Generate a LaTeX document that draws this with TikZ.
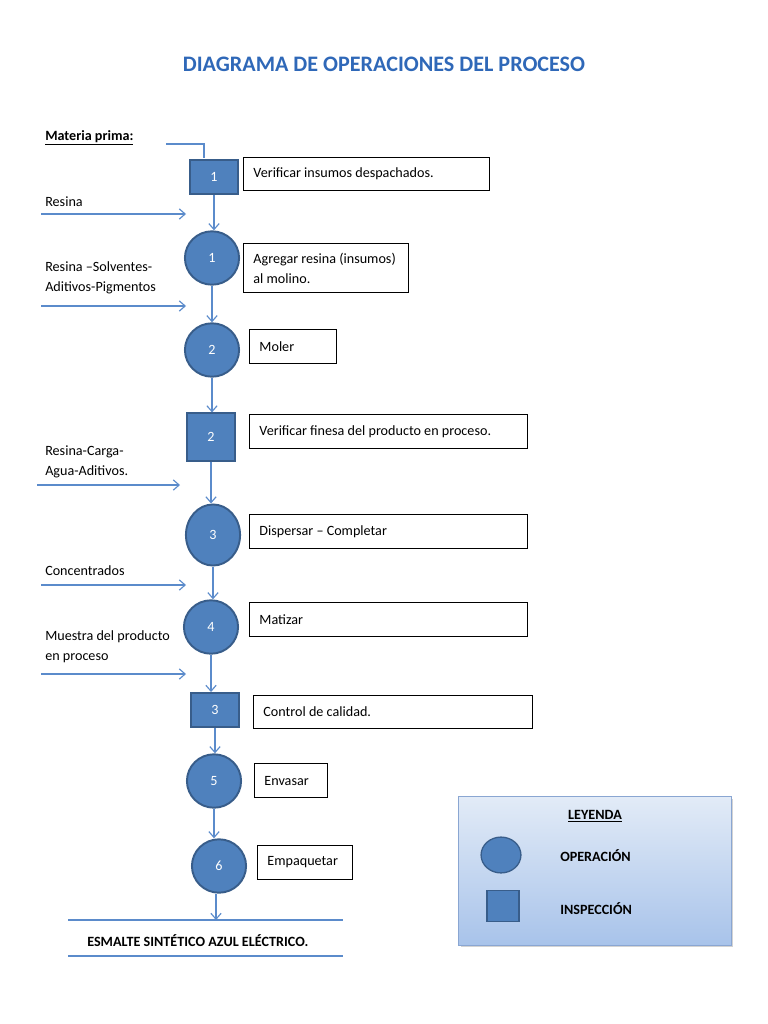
\documentclass[tikz,border=0pt]{standalone}
\usepackage{fontspec}
\setmainfont{Carlito}
\usepackage{xcolor}
\usepackage{tikz}
\usetikzlibrary{arrows.meta,positioning,shapes.geometric,shadows}

\definecolor{opblue}{HTML}{4F81BD}
\definecolor{opborder}{HTML}{385D8A}
\definecolor{flowblue}{HTML}{5B8BCB}
\definecolor{titleblue}{HTML}{2F68B8}
\definecolor{legtop}{HTML}{E2EBF7}
\definecolor{legbot}{HTML}{A8C3EA}
\definecolor{legborder}{HTML}{8AA6D2}

\begin{document}
\begin{tikzpicture}[
    x=0.2734mm, y=-0.2734mm,
    font=\fontsize{11}{15.5}\selectfont,
    operation/.style={ellipse, draw=opborder, fill=opblue, line width=1.5pt, minimum width=14.8mm, minimum height=14.6mm, text=white, inner sep=0pt},
    inspection/.style={rectangle, draw=opborder, fill=opblue, line width=1.5pt, minimum width=12.9mm, minimum height=9.3mm, text=white, inner sep=0pt},
    desc/.style={rectangle, draw=black, line width=0.9pt, anchor=north west, align=flush left, inner xsep=2.7mm, inner ysep=0pt, minimum height=9.3mm},
    feed/.style={anchor=west, align=flush left, inner sep=0pt},
    boldlabel/.style={feed, font=\bfseries\fontsize{11}{15.5}\selectfont},
    arrow/.style={-{Straight Barb[length=1.6mm,width=2.8mm]}, draw=flowblue, line width=0.9pt},
    flowline/.style={draw=flowblue, line width=0.9pt}
]
\useasboundingbox (0,0) rectangle (768,1024);

% Title
\node[font=\bfseries\fontsize{17.2}{20}\selectfont, text=titleblue] (title) at (384,64) {DIAGRAMA DE OPERACIONES DEL PROCESO};

% Process chart
\node[inspection] (insp1) at (214,177) {1};
\node[operation] (op1) at (212,258) {1};
\node[operation] (op2) at (212,350) {2};
\node[inspection, minimum width=13.1mm, minimum height=12.9mm] (insp2) at (211,437) {2};
\node[operation, minimum height=16.7mm] (op3) at (213,535) {3};
\node[operation] (op4) at (211,627) {4};
\node[inspection] (insp3) at (215,710) {3};
\node[operation] (op5) at (214,781) {5};
\node[operation] (op6) at (219,866) {6};

% Descriptions
\node[desc, text width=61.9mm, minimum height=9.0mm] (d_insumos) at (243,157) {Verificar insumos despachados.};
\node[desc, text width=39.7mm, minimum height=13.4mm] (d_agregar) at (243,243) {Agregar resina (insumos)\\al molino.};
\node[desc, text width=18.4mm] (d_moler) at (249,329) {Moler};
\node[desc, text width=70.6mm] (d_finesa) at (249,414) {Verificar finesa del producto en proceso.};
\node[desc, text width=70.6mm] (d_dispersar) at (249,514) {Dispersar -- Completar};
\node[desc, text width=70.6mm] (d_matizar) at (249,602) {Matizar};
\node[desc, text width=70.9mm, minimum height=9.0mm] (d_calidad) at (253,695) {Control de calidad.};
\node[desc, text width=14.6mm] (d_envasar) at (254,763) {Envasar};
\node[desc, text width=20.6mm] (d_empaquetar) at (257,845) {Empaquetar};

% Inputs
\node[boldlabel] (materia) at (45,138) {\underline{Materia prima:}};
\node[feed] (resina) at (45,202) {Resina};
\node[feed] (solventes) at (45,278) {Resina --Solventes-\\Aditivos-Pigmentos};
\node[feed] (carga) at (45,462) {Resina-Carga-\\Agua-Aditivos.};
\node[feed] (concentrados) at (45,571) {Concentrados};
\node[feed] (muestra) at (45,647) {Muestra del producto\\en proceso};

\coordinate (mp_start) at (166,144);
\coordinate (mp_end) at (204,158);
\coordinate (in1_a) at (41,214);  \coordinate (in1_b) at (186,214);
\coordinate (in2_a) at (41,306);  \coordinate (in2_b) at (186,306);
\coordinate (in3_a) at (37,485);  \coordinate (in3_b) at (180,485);
\coordinate (in4_a) at (41,585);  \coordinate (in4_b) at (186,585);
\coordinate (in5_a) at (41,674);  \coordinate (in5_b) at (186,674);

\draw[flowline] (mp_start) -| (mp_end);
\draw[arrow] (in1_a) -- (in1_b);
\draw[arrow] (in2_a) -- (in2_b);
\draw[arrow] (in3_a) -- (in3_b);
\draw[arrow] (in4_a) -- (in4_b);
\draw[arrow] (in5_a) -- (in5_b);

% Main flow
\coordinate (product_top) at (216,920);
\draw[arrow] (insp1.south) -- (insp1.south |- op1.north);
\draw[arrow] (op1.south) -- (op1.south |- op2.north);
\draw[arrow] (op2.south) -- (op2.south |- insp2.north);
\draw[arrow] (insp2.south) -- (insp2.south |- op3.north);
\draw[arrow] (op3.south) -- (op3.south |- op4.north);
\draw[arrow] (op4.south) -- (op4.south |- insp3.north);
\draw[arrow] (insp3.south) -- (insp3.south |- op5.north);
\draw[arrow] (op5.south) -- (op5.south |- op6.north);
\draw[arrow] (op6.south -| product_top) -- (product_top);

% Final product
\coordinate (line1_a) at (68,920);  \coordinate (line1_b) at (343,920);
\coordinate (line2_a) at (68,956);  \coordinate (line2_b) at (343,956);
\draw[flowline] (line1_a) -- (line1_b);
\draw[flowline] (line2_a) -- (line2_b);
\node[boldlabel] (product) at (87,941) {ESMALTE SINTÉTICO AZUL ELÉCTRICO.};

% Legend
\node[rectangle, draw=legborder, line width=0.8pt, top color=legtop, bottom color=legbot, minimum width=74.4mm, minimum height=40.5mm, drop shadow={opacity=0.35, shadow xshift=0.6mm, shadow yshift=-0.6mm}] (legend) at (595,871) {};
\node[boldlabel, anchor=center] (legend_title) at (595,816) {\underline{LEYENDA}};
\node[operation, line width=1pt, minimum width=10.9mm, minimum height=9.8mm] (leg_op) at (501,855) {};
\node[inspection, line width=1pt, minimum width=8.7mm, minimum height=8.5mm] (leg_insp) at (503,906) {};
\node[boldlabel] (leg_op_text) at (560,856) {OPERACIÓN};
\node[boldlabel] (leg_insp_text) at (560,909) {INSPECCIÓN};

\end{tikzpicture}
\end{document}
